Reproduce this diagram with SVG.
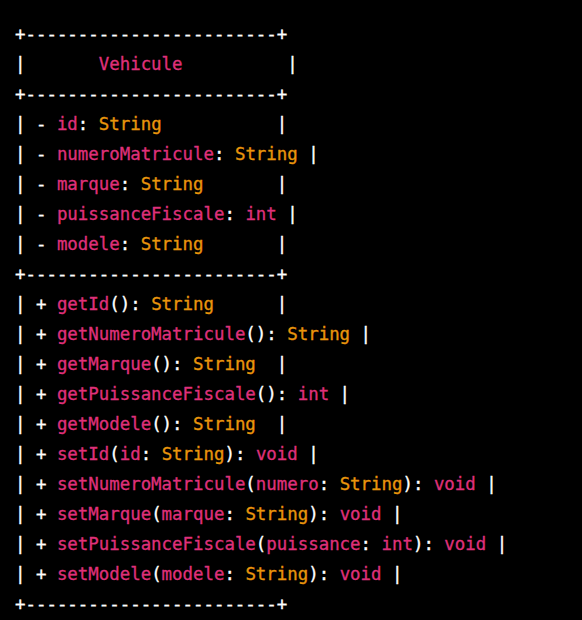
<svg xmlns="http://www.w3.org/2000/svg" width="582" height="620" viewBox="0 0 582 620">
<style>
text{font-family:"DejaVu Sans Mono","Liberation Mono",monospace;font-size:17.4px;fill:#ffffff;stroke:#ffffff;stroke-width:0.35px;white-space:pre}
.p{fill:#df3079;stroke:#df3079}
.o{fill:#e9950c;stroke:#e9950c}
</style>
<rect width="582" height="620" fill="#000000"/>
<g id="vehicule" xml:space="preserve">
<text x="15" y="40">+------------------------+</text>
<text x="15" y="70">|       <tspan class="p">Vehicule</tspan>          |</text>
<text x="15" y="100">+------------------------+</text>
<text x="15" y="130">| - <tspan class="p">id</tspan>: <tspan class="o">String</tspan>           |</text>
<text x="15" y="160">| - <tspan class="p">numeroMatricule</tspan>: <tspan class="o">String</tspan> |</text>
<text x="15" y="190">| - <tspan class="p">marque</tspan>: <tspan class="o">String</tspan>       |</text>
<text x="15" y="220">| - <tspan class="p">puissanceFiscale</tspan>: <tspan class="p">int</tspan> |</text>
<text x="15" y="250">| - <tspan class="p">modele</tspan>: <tspan class="o">String</tspan>       |</text>
<text x="15" y="280">+------------------------+</text>
<text x="15" y="310">| + <tspan class="p">getId</tspan>(): <tspan class="o">String</tspan>      |</text>
<text x="15" y="340">| + <tspan class="p">getNumeroMatricule</tspan>(): <tspan class="o">String</tspan> |</text>
<text x="15" y="370">| + <tspan class="p">getMarque</tspan>(): <tspan class="o">String</tspan>  |</text>
<text x="15" y="400">| + <tspan class="p">getPuissanceFiscale</tspan>(): <tspan class="p">int</tspan> |</text>
<text x="15" y="430">| + <tspan class="p">getModele</tspan>(): <tspan class="o">String</tspan>  |</text>
<text x="15" y="460">| + <tspan class="p">setId</tspan>(<tspan class="p">id</tspan>: <tspan class="o">String</tspan>): <tspan class="p">void</tspan> |</text>
<text x="15" y="490">| + <tspan class="p">setNumeroMatricule</tspan>(<tspan class="p">numero</tspan>: <tspan class="o">String</tspan>): <tspan class="p">void</tspan> |</text>
<text x="15" y="520">| + <tspan class="p">setMarque</tspan>(<tspan class="p">marque</tspan>: <tspan class="o">String</tspan>): <tspan class="p">void</tspan> |</text>
<text x="15" y="550">| + <tspan class="p">setPuissanceFiscale</tspan>(<tspan class="p">puissance</tspan>: <tspan class="p">int</tspan>): <tspan class="p">void</tspan> |</text>
<text x="15" y="580">| + <tspan class="p">setModele</tspan>(<tspan class="p">modele</tspan>: <tspan class="o">String</tspan>): <tspan class="p">void</tspan> |</text>
<text x="15" y="610">+------------------------+</text>
</g>
<g id="connectors"/>
</svg>
